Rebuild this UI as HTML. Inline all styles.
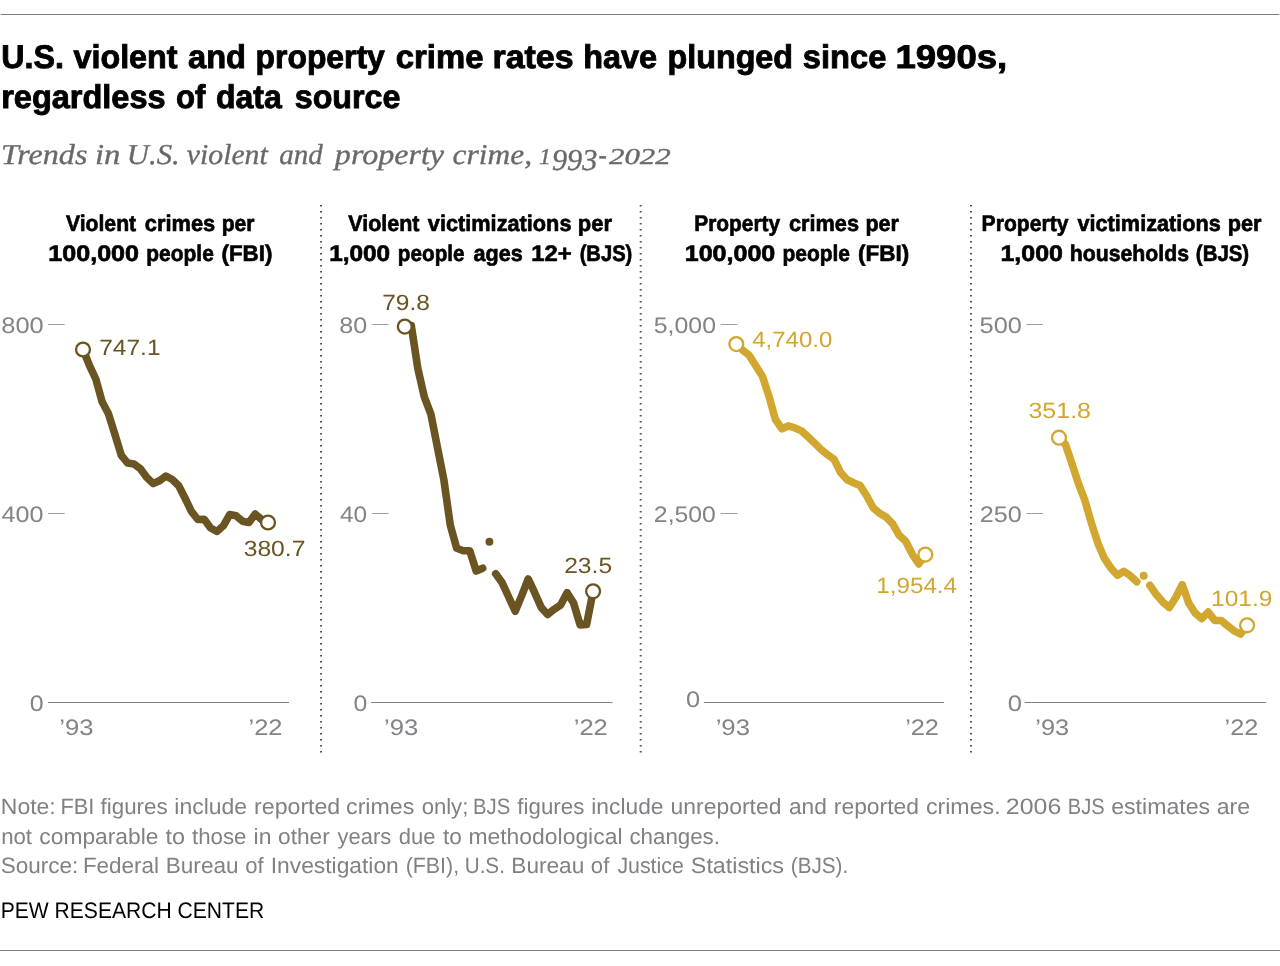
<!DOCTYPE html>
<html lang="en">
<head>
<meta charset="utf-8">
<title>U.S. violent and property crime rates have plunged since 1990s, regardless of data source</title>
<style>
html,body{margin:0;padding:0;background:#fff;}
body{width:1280px;height:966px;overflow:hidden;font-family:"Liberation Sans",Arial,sans-serif;}
svg{display:block;text-rendering:geometricPrecision;}
</style>
</head>
<body>
<svg width="1280" height="966" viewBox="0 0 1280 966">
<rect width="1280" height="966" fill="#fff"/>
<g id="shapes">
<rect x="0.7" y="14" width="1278.6" height="1" fill="#808080"/>
<rect x="0" y="950" width="1280" height="1" fill="#808080"/>
<line x1="321" y1="205" x2="321" y2="753" stroke="#505050" stroke-width="2" stroke-dasharray="1.5 4.5"/>
<line x1="640.7" y1="205" x2="640.7" y2="753" stroke="#505050" stroke-width="2" stroke-dasharray="1.5 4.5"/>
<line x1="971" y1="205" x2="971" y2="753" stroke="#505050" stroke-width="2" stroke-dasharray="1.5 4.5"/>
<rect x="48.1" y="324.0" width="16.6" height="1" fill="#9d9ea3"/>
<rect x="48.1" y="513.0" width="16.6" height="1" fill="#9d9ea3"/>
<rect x="371.9" y="324.0" width="16.7" height="1" fill="#9d9ea3"/>
<rect x="371.9" y="513.0" width="16.7" height="1" fill="#9d9ea3"/>
<rect x="720.7" y="324.0" width="16.7" height="1" fill="#9d9ea3"/>
<rect x="720.7" y="513.0" width="16.7" height="1" fill="#9d9ea3"/>
<rect x="1026.5" y="324.0" width="16.4" height="1" fill="#9d9ea3"/>
<rect x="1026.5" y="513.0" width="16.4" height="1" fill="#9d9ea3"/>
<rect x="48.0" y="702" width="241.0" height="1" fill="#7e8084"/>
<rect x="371.1" y="702" width="241.4" height="1" fill="#7e8084"/>
<rect x="703.8" y="702" width="240.3" height="1" fill="#7e8084"/>
<rect x="1024.6" y="702" width="241.4" height="1" fill="#7e8084"/>
<path d="M83.0 349.5 L89.4 365.3 L95.8 379.0 L102.1 401.7 L108.5 413.8 L114.9 434.3 L121.3 455.3 L127.7 463.1 L134.0 464.0 L140.4 468.8 L146.8 477.6 L153.2 483.6 L159.6 480.8 L165.9 476.0 L172.3 479.5 L178.7 485.7 L185.1 498.3 L191.4 511.3 L197.8 519.5 L204.2 519.2 L210.6 528.0 L217.0 531.5 L223.3 525.8 L229.7 514.6 L236.1 515.8 L242.5 521.2 L248.9 522.5 L255.2 514.1 L261.6 519.5 L268.0 522.5" fill="none" stroke="#6A5522" stroke-width="7.6" stroke-linejoin="round" stroke-linecap="round"/>
<circle cx="83.0" cy="349.5" r="6.95" fill="#fff" stroke="#6A5522" stroke-width="2.3"/>
<circle cx="268.0" cy="522.5" r="6.95" fill="#fff" stroke="#6A5522" stroke-width="2.3"/>
<path d="M404.8 326.6 L411.3 325.6 L417.8 368.4 L424.3 396.8 L430.8 413.8 L437.3 446.8 L443.8 479.4 L450.3 525.2 L456.7 548.3 L463.2 550.7 L469.7 550.7 L476.2 571.0 L482.7 568.2" fill="none" stroke="#6A5522" stroke-width="7.6" stroke-linejoin="round" stroke-linecap="round"/>
<path d="M495.7 573.8 L502.2 582.8 L508.7 597.0 L515.2 611.2 L521.7 595.6 L528.2 579.0 L534.7 592.7 L541.2 607.4 L547.6 614.5 L554.1 609.3 L560.6 605.0 L567.1 592.7 L573.6 603.1 L580.1 624.9 L586.6 624.4 L593.1 591.3" fill="none" stroke="#6A5522" stroke-width="7.6" stroke-linejoin="round" stroke-linecap="round"/>
<circle cx="489.4" cy="541.8" r="3.95" fill="#6A5522"/>
<circle cx="404.8" cy="326.6" r="6.95" fill="#fff" stroke="#6A5522" stroke-width="2.3"/>
<circle cx="593.1" cy="591.3" r="6.95" fill="#fff" stroke="#6A5522" stroke-width="2.3"/>
<path d="M736.3 344.1 L742.8 350.2 L749.3 355.4 L755.9 366.0 L762.4 376.2 L768.9 396.1 L775.4 419.4 L781.9 428.9 L788.4 425.9 L795.0 428.0 L801.5 430.9 L808.0 436.8 L814.5 443.0 L821.0 449.4 L827.5 454.7 L834.1 459.4 L840.6 472.5 L847.1 479.7 L853.6 482.8 L860.1 485.6 L866.6 495.7 L873.2 507.8 L879.7 513.4 L886.2 517.1 L892.7 523.8 L899.2 535.3 L905.7 541.3 L912.3 554.3 L918.8 563.9 L925.3 554.6" fill="none" stroke="#D1A730" stroke-width="7.6" stroke-linejoin="round" stroke-linecap="round"/>
<circle cx="736.3" cy="344.1" r="6.95" fill="#fff" stroke="#D1A730" stroke-width="2.3"/>
<circle cx="925.3" cy="554.6" r="6.95" fill="#fff" stroke="#D1A730" stroke-width="2.3"/>
<path d="M1059.0 437.7 L1065.5 444.5 L1072.0 463.9 L1078.5 483.7 L1084.9 500.5 L1091.4 523.1 L1097.9 543.2 L1104.4 558.4 L1110.9 568.0 L1117.4 575.2 L1123.9 571.3 L1130.3 575.7 L1136.8 581.8" fill="none" stroke="#D1A730" stroke-width="7.6" stroke-linejoin="round" stroke-linecap="round"/>
<path d="M1149.8 585.3 L1156.3 594.6 L1162.8 602.1 L1169.3 607.5 L1175.8 597.5 L1182.2 584.6 L1188.7 603.0 L1195.2 613.1 L1201.7 618.7 L1208.2 612.1 L1214.7 620.4 L1221.2 620.5 L1227.6 625.7 L1234.1 630.9 L1240.6 634.1 L1247.1 625.3" fill="none" stroke="#D1A730" stroke-width="7.6" stroke-linejoin="round" stroke-linecap="round"/>
<circle cx="1143.7" cy="575.7" r="3.95" fill="#D1A730"/>
<circle cx="1059.0" cy="437.7" r="6.95" fill="#fff" stroke="#D1A730" stroke-width="2.3"/>
<circle cx="1247.1" cy="625.3" r="6.95" fill="#fff" stroke="#D1A730" stroke-width="2.3"/>
</g>
<g id="texts">
<text id="t0" font-size="32.8" fill="#000" font-weight="700" font-family='"Liberation Sans", Arial, sans-serif' stroke="#000" stroke-width="0.9"><tspan id="t0_0" x="1.21" y="68.2" textLength="62.66" lengthAdjust="spacingAndGlyphs">U.S.</tspan> <tspan id="t0_1" x="73.49" y="68.2" textLength="104.06" lengthAdjust="spacingAndGlyphs">violent</tspan> <tspan id="t0_2" x="188.08" y="68.2" textLength="57.96" lengthAdjust="spacingAndGlyphs">and</tspan> <tspan id="t0_3" x="255.6" y="68.2" textLength="129.22" lengthAdjust="spacingAndGlyphs">property</tspan> <tspan id="t0_4" x="395.82" y="68.2" textLength="87.58" lengthAdjust="spacingAndGlyphs">crime</tspan> <tspan id="t0_5" x="492.43" y="68.2" textLength="81.17" lengthAdjust="spacingAndGlyphs">rates</tspan> <tspan id="t0_6" x="583.13" y="68.2" textLength="73.79" lengthAdjust="spacingAndGlyphs">have</tspan> <tspan id="t0_7" x="667.61" y="68.2" textLength="125.37" lengthAdjust="spacingAndGlyphs">plunged</tspan> <tspan id="t0_8" x="802.84" y="68.2" textLength="83.47" lengthAdjust="spacingAndGlyphs">since</tspan> <tspan id="t0_9" x="895.48" y="68.2" textLength="111.68" lengthAdjust="spacingAndGlyphs">1990s,</tspan></text>
<text id="t1" font-size="32.8" fill="#000" font-weight="700" font-family='"Liberation Sans", Arial, sans-serif' stroke="#000" stroke-width="0.9"><tspan id="t1_0" x="1.17" y="107.5" textLength="164.46" lengthAdjust="spacingAndGlyphs">regardless</tspan> <tspan id="t1_1" x="176.03" y="107.5" textLength="29.43" lengthAdjust="spacingAndGlyphs">of</tspan> <tspan id="t1_2" x="215.96" y="107.5" textLength="65.72" lengthAdjust="spacingAndGlyphs">data</tspan> <tspan id="t1_3" x="294.77" y="107.5" textLength="105.69" lengthAdjust="spacingAndGlyphs">source</tspan></text>
<text id="t2" font-size="28.8" fill="#68696d" font-style="italic" font-family='"Liberation Serif", Georgia, serif' stroke="#68696d" stroke-width="0.35"><tspan id="t2_0" x="1.14" y="164.3" textLength="86.27" lengthAdjust="spacingAndGlyphs">Trends</tspan> <tspan id="t2_1" x="94.94" y="164.3" textLength="25.39" lengthAdjust="spacingAndGlyphs">in</tspan> <tspan id="t2_2" x="126.76" y="164.3" textLength="52.94" lengthAdjust="spacingAndGlyphs">U.S.</tspan> <tspan id="t2_3" x="186.84" y="164.3" textLength="80.87" lengthAdjust="spacingAndGlyphs">violent</tspan> <tspan id="t2_4" x="279.31" y="164.3" textLength="43.55" lengthAdjust="spacingAndGlyphs">and</tspan> <tspan id="t2_5" x="334.87" y="164.3" textLength="109.24" lengthAdjust="spacingAndGlyphs">property</tspan> <tspan id="t2_6" x="452.62" y="164.3" textLength="79.41" lengthAdjust="spacingAndGlyphs">crime,</tspan> <tspan id="t2_7" x="538.99" y="164.3" font-size="22.6" textLength="11.9" lengthAdjust="spacingAndGlyphs">1</tspan><tspan id="t2_8" x="551.92" y="169.6" font-size="30.3" textLength="45.45" lengthAdjust="spacingAndGlyphs">993</tspan><tspan id="t2_9" x="598.61" y="164.3" textLength="8.36" lengthAdjust="spacingAndGlyphs">-</tspan><tspan id="t2_10" x="608.95" y="164.3" font-size="22.6" textLength="61.77" lengthAdjust="spacingAndGlyphs">2022</tspan></text>
<text id="t3" font-size="22.6" fill="#000" font-weight="700" font-family='"Liberation Sans", Arial, sans-serif' stroke="#000" stroke-width="0.65"><tspan id="t3_0" x="65.89" y="230.5" textLength="70.31" lengthAdjust="spacingAndGlyphs">Violent</tspan> <tspan id="t3_1" x="144.76" y="230.5" textLength="70.42" lengthAdjust="spacingAndGlyphs">crimes</tspan> <tspan id="t3_2" x="221.72" y="230.5" textLength="32.8" lengthAdjust="spacingAndGlyphs">per</tspan></text>
<text id="t4" font-size="22.6" fill="#000" font-weight="700" font-family='"Liberation Sans", Arial, sans-serif' stroke="#000" stroke-width="0.65"><tspan id="t4_0" x="48.38" y="260.6" textLength="90.56" lengthAdjust="spacingAndGlyphs">100,000</tspan> <tspan id="t4_1" x="146.33" y="260.6" textLength="67.48" lengthAdjust="spacingAndGlyphs">people</tspan> <tspan id="t4_2" x="221.52" y="260.6" textLength="50.89" lengthAdjust="spacingAndGlyphs">(FBI)</tspan></text>
<text id="t5" font-size="22.6" fill="#000" font-weight="700" font-family='"Liberation Sans", Arial, sans-serif' stroke="#000" stroke-width="0.65"><tspan id="t5_0" x="348.28" y="230.5" textLength="71.25" lengthAdjust="spacingAndGlyphs">Violent</tspan> <tspan id="t5_1" x="427.83" y="230.5" textLength="143.65" lengthAdjust="spacingAndGlyphs">victimizations</tspan> <tspan id="t5_2" x="577.87" y="230.5" textLength="34.2" lengthAdjust="spacingAndGlyphs">per</tspan></text>
<text id="t6" font-size="22.6" fill="#000" font-weight="700" font-family='"Liberation Sans", Arial, sans-serif' stroke="#000" stroke-width="0.65"><tspan id="t6_0" x="329.17" y="260.6" textLength="60.99" lengthAdjust="spacingAndGlyphs">1,000</tspan> <tspan id="t6_1" x="397.87" y="260.6" textLength="66.66" lengthAdjust="spacingAndGlyphs">people</tspan> <tspan id="t6_2" x="473.53" y="260.6" textLength="49.25" lengthAdjust="spacingAndGlyphs">ages</tspan> <tspan id="t6_3" x="531.17" y="260.6" textLength="40.38" lengthAdjust="spacingAndGlyphs">12+</tspan> <tspan id="t6_4" x="579.66" y="260.6" textLength="52.66" lengthAdjust="spacingAndGlyphs">(BJS)</tspan></text>
<text id="t7" font-size="22.6" fill="#000" font-weight="700" font-family='"Liberation Sans", Arial, sans-serif' stroke="#000" stroke-width="0.65"><tspan id="t7_0" x="694.19" y="230.5" textLength="86.0" lengthAdjust="spacingAndGlyphs">Property</tspan> <tspan id="t7_1" x="788.94" y="230.5" textLength="70.04" lengthAdjust="spacingAndGlyphs">crimes</tspan> <tspan id="t7_2" x="865.43" y="230.5" textLength="33.55" lengthAdjust="spacingAndGlyphs">per</tspan></text>
<text id="t8" font-size="22.6" fill="#000" font-weight="700" font-family='"Liberation Sans", Arial, sans-serif' stroke="#000" stroke-width="0.65"><tspan id="t8_0" x="684.69" y="260.6" textLength="90.63" lengthAdjust="spacingAndGlyphs">100,000</tspan> <tspan id="t8_1" x="782.41" y="260.6" textLength="67.61" lengthAdjust="spacingAndGlyphs">people</tspan> <tspan id="t8_2" x="858.05" y="260.6" textLength="51.09" lengthAdjust="spacingAndGlyphs">(FBI)</tspan></text>
<text id="t9" font-size="22.6" fill="#000" font-weight="700" font-family='"Liberation Sans", Arial, sans-serif' stroke="#000" stroke-width="0.65"><tspan id="t9_0" x="981.62" y="230.5" textLength="86.79" lengthAdjust="spacingAndGlyphs">Property</tspan> <tspan id="t9_1" x="1077.47" y="230.5" textLength="143.4" lengthAdjust="spacingAndGlyphs">victimizations</tspan> <tspan id="t9_2" x="1227.81" y="230.5" textLength="33.77" lengthAdjust="spacingAndGlyphs">per</tspan></text>
<text id="t10" font-size="22.6" fill="#000" font-weight="700" font-family='"Liberation Sans", Arial, sans-serif' stroke="#000" stroke-width="0.65"><tspan id="t10_0" x="1000.53" y="260.6" textLength="62.37" lengthAdjust="spacingAndGlyphs">1,000</tspan> <tspan id="t10_1" x="1069.74" y="260.6" textLength="119.22" lengthAdjust="spacingAndGlyphs">households</tspan> <tspan id="t10_2" x="1195.85" y="260.6" textLength="53.32" lengthAdjust="spacingAndGlyphs">(BJS)</tspan></text>
<text id="t11" x="1.32" y="332.6" font-size="22.4" fill="#828488" font-family='"Liberation Sans", Arial, sans-serif' textLength="42.42" lengthAdjust="spacingAndGlyphs">800</text>
<text id="t12" x="1.63" y="521.7" font-size="22.4" fill="#828488" font-family='"Liberation Sans", Arial, sans-serif' textLength="41.97" lengthAdjust="spacingAndGlyphs">400</text>
<text id="t13" x="29.82" y="711.1" font-size="22.4" fill="#828488" font-family='"Liberation Sans", Arial, sans-serif' textLength="13.88" lengthAdjust="spacingAndGlyphs">0</text>
<text id="t14" x="339.22" y="332.6" font-size="22.4" fill="#828488" font-family='"Liberation Sans", Arial, sans-serif' textLength="27.92" lengthAdjust="spacingAndGlyphs">80</text>
<text id="t15" x="339.95" y="521.7" font-size="22.4" fill="#828488" font-family='"Liberation Sans", Arial, sans-serif' textLength="27.14" lengthAdjust="spacingAndGlyphs">40</text>
<text id="t16" x="353.45" y="711.1" font-size="22.4" fill="#828488" font-family='"Liberation Sans", Arial, sans-serif' textLength="13.84" lengthAdjust="spacingAndGlyphs">0</text>
<text id="t17" x="653.8" y="332.6" font-size="22.4" fill="#828488" font-family='"Liberation Sans", Arial, sans-serif' textLength="62.21" lengthAdjust="spacingAndGlyphs">5,000</text>
<text id="t18" x="653.88" y="521.7" font-size="22.4" fill="#828488" font-family='"Liberation Sans", Arial, sans-serif' textLength="62.05" lengthAdjust="spacingAndGlyphs">2,500</text>
<text id="t19" x="686.05" y="707.1" font-size="22.4" fill="#828488" font-family='"Liberation Sans", Arial, sans-serif' textLength="14.14" lengthAdjust="spacingAndGlyphs">0</text>
<text id="t20" x="979.59" y="332.6" font-size="22.4" fill="#828488" font-family='"Liberation Sans", Arial, sans-serif' textLength="42.4" lengthAdjust="spacingAndGlyphs">500</text>
<text id="t21" x="979.81" y="521.7" font-size="22.4" fill="#828488" font-family='"Liberation Sans", Arial, sans-serif' textLength="42.02" lengthAdjust="spacingAndGlyphs">250</text>
<text id="t22" x="1007.77" y="711.1" font-size="22.4" fill="#828488" font-family='"Liberation Sans", Arial, sans-serif' textLength="14.23" lengthAdjust="spacingAndGlyphs">0</text>
<text id="t23" x="59.2" y="734.7" font-size="22.4" fill="#828488" font-family='"Liberation Sans", Arial, sans-serif' textLength="34.23" lengthAdjust="spacingAndGlyphs">’93</text>
<text id="t24" x="248.51" y="734.7" font-size="22.4" fill="#828488" font-family='"Liberation Sans", Arial, sans-serif' textLength="34.05" lengthAdjust="spacingAndGlyphs">’22</text>
<text id="t25" x="383.99" y="734.7" font-size="22.4" fill="#828488" font-family='"Liberation Sans", Arial, sans-serif' textLength="34.21" lengthAdjust="spacingAndGlyphs">’93</text>
<text id="t26" x="573.75" y="734.7" font-size="22.4" fill="#828488" font-family='"Liberation Sans", Arial, sans-serif' textLength="34.06" lengthAdjust="spacingAndGlyphs">’22</text>
<text id="t27" x="715.66" y="734.7" font-size="22.4" fill="#828488" font-family='"Liberation Sans", Arial, sans-serif' textLength="34.35" lengthAdjust="spacingAndGlyphs">’93</text>
<text id="t28" x="905.2" y="734.7" font-size="22.4" fill="#828488" font-family='"Liberation Sans", Arial, sans-serif' textLength="33.76" lengthAdjust="spacingAndGlyphs">’22</text>
<text id="t29" x="1035.38" y="734.7" font-size="22.4" fill="#828488" font-family='"Liberation Sans", Arial, sans-serif' textLength="33.84" lengthAdjust="spacingAndGlyphs">’93</text>
<text id="t30" x="1224.63" y="734.7" font-size="22.4" fill="#828488" font-family='"Liberation Sans", Arial, sans-serif' textLength="33.68" lengthAdjust="spacingAndGlyphs">’22</text>
<text id="t31" x="99.21" y="355.3" font-size="22.0" fill="#6A5522" font-family='"Liberation Sans", Arial, sans-serif' textLength="61.31" lengthAdjust="spacingAndGlyphs">747.1</text>
<text id="t32" x="243.67" y="555.8" font-size="22.0" fill="#6A5522" font-family='"Liberation Sans", Arial, sans-serif' textLength="61.78" lengthAdjust="spacingAndGlyphs">380.7</text>
<text id="t33" x="382.23" y="309.5" font-size="22.0" fill="#6A5522" font-family='"Liberation Sans", Arial, sans-serif' textLength="47.66" lengthAdjust="spacingAndGlyphs">79.8</text>
<text id="t34" x="564.17" y="573.3" font-size="22.0" fill="#6A5522" font-family='"Liberation Sans", Arial, sans-serif' textLength="47.96" lengthAdjust="spacingAndGlyphs">23.5</text>
<text id="t35" x="752.22" y="346.7" font-size="22.0" fill="#D1A730" font-family='"Liberation Sans", Arial, sans-serif' textLength="80.0" lengthAdjust="spacingAndGlyphs">4,740.0</text>
<text id="t36" x="876.27" y="593.3" font-size="22.0" fill="#D1A730" font-family='"Liberation Sans", Arial, sans-serif' textLength="80.81" lengthAdjust="spacingAndGlyphs">1,954.4</text>
<text id="t37" x="1028.46" y="418.1" font-size="22.0" fill="#D1A730" font-family='"Liberation Sans", Arial, sans-serif' textLength="62.55" lengthAdjust="spacingAndGlyphs">351.8</text>
<text id="t38" x="1211.03" y="606.4" font-size="22.0" fill="#D1A730" font-family='"Liberation Sans", Arial, sans-serif' textLength="61.3" lengthAdjust="spacingAndGlyphs">101.9</text>
<text id="t39" font-size="22.2" fill="#7f8184" font-family='"Liberation Sans", Arial, sans-serif'><tspan id="t39_0" x="0.86" y="813.6" textLength="54.88" lengthAdjust="spacingAndGlyphs">Note:</tspan> <tspan id="t39_1" x="60.39" y="813.6" textLength="34.0" lengthAdjust="spacingAndGlyphs">FBI</tspan> <tspan id="t39_2" x="100.58" y="813.6" textLength="67.05" lengthAdjust="spacingAndGlyphs">figures</tspan> <tspan id="t39_3" x="174.32" y="813.6" textLength="72.72" lengthAdjust="spacingAndGlyphs">include</tspan> <tspan id="t39_4" x="254.09" y="813.6" textLength="86.16" lengthAdjust="spacingAndGlyphs">reported</tspan> <tspan id="t39_5" x="346.09" y="813.6" textLength="68.12" lengthAdjust="spacingAndGlyphs">crimes</tspan> <tspan id="t39_6" x="421.64" y="813.6" textLength="46.66" lengthAdjust="spacingAndGlyphs">only;</tspan> <tspan id="t39_7" x="473.01" y="813.6" textLength="37.22" lengthAdjust="spacingAndGlyphs">BJS</tspan> <tspan id="t39_8" x="517.36" y="813.6" textLength="66.96" lengthAdjust="spacingAndGlyphs">figures</tspan> <tspan id="t39_9" x="591.28" y="813.6" textLength="72.26" lengthAdjust="spacingAndGlyphs">include</tspan> <tspan id="t39_10" x="670.59" y="813.6" textLength="110.83" lengthAdjust="spacingAndGlyphs">unreported</tspan> <tspan id="t39_11" x="788.98" y="813.6" textLength="37.88" lengthAdjust="spacingAndGlyphs">and</tspan> <tspan id="t39_12" x="833.81" y="813.6" textLength="85.18" lengthAdjust="spacingAndGlyphs">reported</tspan> <tspan id="t39_13" x="925.91" y="813.6" textLength="74.68" lengthAdjust="spacingAndGlyphs">crimes.</tspan> <tspan id="t39_14" x="1005.87" y="813.6" textLength="55.42" lengthAdjust="spacingAndGlyphs">2006</tspan> <tspan id="t39_15" x="1067.87" y="813.6" textLength="36.74" lengthAdjust="spacingAndGlyphs">BJS</tspan> <tspan id="t39_16" x="1111.23" y="813.6" textLength="98.84" lengthAdjust="spacingAndGlyphs">estimates</tspan> <tspan id="t39_17" x="1216.73" y="813.6" textLength="33.41" lengthAdjust="spacingAndGlyphs">are</tspan></text>
<text id="t40" font-size="22.2" fill="#7f8184" font-family='"Liberation Sans", Arial, sans-serif'><tspan id="t40_0" x="1.15" y="843.5" textLength="30.84" lengthAdjust="spacingAndGlyphs">not</tspan> <tspan id="t40_1" x="39.35" y="843.5" textLength="119.13" lengthAdjust="spacingAndGlyphs">comparable</tspan> <tspan id="t40_2" x="165.57" y="843.5" textLength="19.55" lengthAdjust="spacingAndGlyphs">to</tspan> <tspan id="t40_3" x="192.05" y="843.5" textLength="54.46" lengthAdjust="spacingAndGlyphs">those</tspan> <tspan id="t40_4" x="253.58" y="843.5" textLength="17.86" lengthAdjust="spacingAndGlyphs">in</tspan> <tspan id="t40_5" x="278.13" y="843.5" textLength="51.63" lengthAdjust="spacingAndGlyphs">other</tspan> <tspan id="t40_6" x="337.59" y="843.5" textLength="53.59" lengthAdjust="spacingAndGlyphs">years</tspan> <tspan id="t40_7" x="398.68" y="843.5" textLength="36.74" lengthAdjust="spacingAndGlyphs">due</tspan> <tspan id="t40_8" x="442.94" y="843.5" textLength="18.92" lengthAdjust="spacingAndGlyphs">to</tspan> <tspan id="t40_9" x="468.44" y="843.5" textLength="154.04" lengthAdjust="spacingAndGlyphs">methodological</tspan> <tspan id="t40_10" x="629.44" y="843.5" textLength="90.55" lengthAdjust="spacingAndGlyphs">changes.</tspan></text>
<text id="t41" font-size="22.2" fill="#7f8184" font-family='"Liberation Sans", Arial, sans-serif'><tspan id="t41_0" x="0.76" y="873.3" textLength="77.48" lengthAdjust="spacingAndGlyphs">Source:</tspan> <tspan id="t41_1" x="82.91" y="873.3" textLength="75.98" lengthAdjust="spacingAndGlyphs">Federal</tspan> <tspan id="t41_2" x="165.76" y="873.3" textLength="72.79" lengthAdjust="spacingAndGlyphs">Bureau</tspan> <tspan id="t41_3" x="245.33" y="873.3" textLength="18.42" lengthAdjust="spacingAndGlyphs">of</tspan> <tspan id="t41_4" x="270.78" y="873.3" textLength="127.99" lengthAdjust="spacingAndGlyphs">Investigation</tspan> <tspan id="t41_5" x="405.65" y="873.3" textLength="53.48" lengthAdjust="spacingAndGlyphs">(FBI),</tspan> <tspan id="t41_6" x="464.72" y="873.3" textLength="40.15" lengthAdjust="spacingAndGlyphs">U.S.</tspan> <tspan id="t41_7" x="511.37" y="873.3" textLength="72.91" lengthAdjust="spacingAndGlyphs">Bureau</tspan> <tspan id="t41_8" x="590.85" y="873.3" textLength="18.44" lengthAdjust="spacingAndGlyphs">of</tspan> <tspan id="t41_9" x="617.41" y="873.3" textLength="66.43" lengthAdjust="spacingAndGlyphs">Justice</tspan> <tspan id="t41_10" x="690.89" y="873.3" textLength="93.01" lengthAdjust="spacingAndGlyphs">Statistics</tspan> <tspan id="t41_11" x="790.85" y="873.3" textLength="57.33" lengthAdjust="spacingAndGlyphs">(BJS).</tspan></text>
<text id="t42" x="0.72" y="917.8" font-size="22.4" fill="#000" font-family='"Liberation Sans", Arial, sans-serif' textLength="263.47" lengthAdjust="spacingAndGlyphs">PEW RESEARCH CENTER</text>
</g>
</svg>
</body>
</html>
